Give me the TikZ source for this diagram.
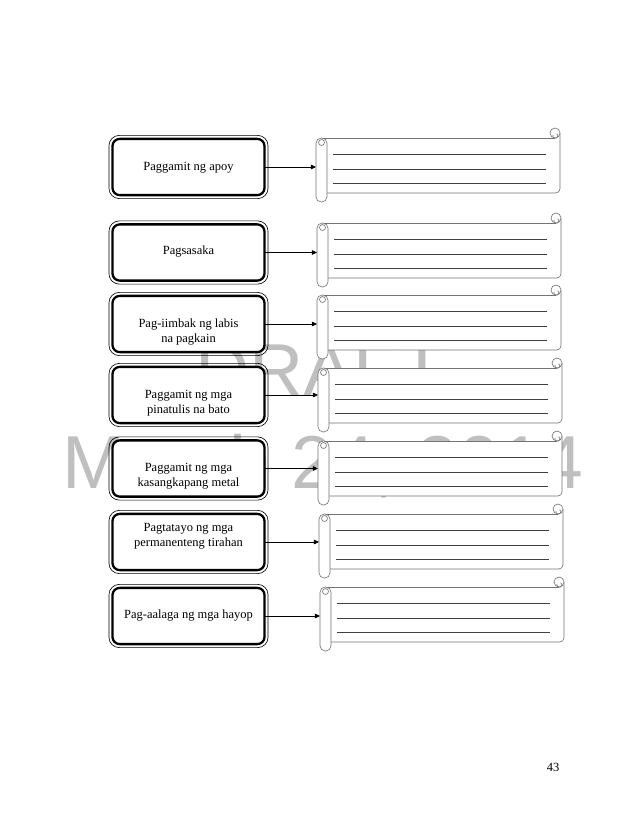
\documentclass[tikz,border=0pt]{standalone}
\usepackage{fontspec}
\setmainfont{Liberation Serif}
\newfontfamily\markfont{Liberation Sans}
\usetikzlibrary{positioning,calc,arrows.meta}

\tikzset{
  topicbox/.style={draw, line width=2.2pt, rounded corners=7pt, fill=white,
    minimum width=146pt, minimum height=54pt, outer sep=0pt, inner sep=0pt},
  topicrim/.style={draw, line width=0.6pt, rounded corners=10pt},
  topictext/.style={align=center, font=\fontsize{12}{14.5}\selectfont, inner sep=0pt},
  scrollrim/.style={draw=black!55, line width=0.6pt},
  writeline/.style={draw=black!75, line width=0.7pt},
  watermark/.style={text=black!25, font=\markfont\fontsize{72}{72}\selectfont, anchor=base},
  linkarrow/.style={-{Triangle[length=5pt,width=4.5pt]}, line width=0.6pt}
}

\begin{document}
\begin{tikzpicture}[x=0.96pt,y=-0.96pt]
        \fill[white] (0,0) rectangle (638,826);
        \useasboundingbox (0,0) rectangle (638,826);

        % Watermark
        \node[watermark] (draft) at (320,396) {DRAFT};
        \node[watermark] (date) at (323,488) {March 24, 2014};

        % Topic boxes
        \node[topicbox] (b1) at (188.5,167) {};
        \node[topicbox] (b2) at (188.5,252.5) {};
        \node[topicbox] (b3) at (188.5,324) {};
        \node[topicbox] (b4) at (188.5,395) {};
        \node[topicbox] (b5) at (188.5,468.5) {};
        \node[topicbox] (b6) at (188.5,542) {};
        \node[topicbox] (b7) at (188.5,616) {};
        \foreach \n in {b1,b2,b3,b4,b5,b6,b7}
            \draw[topicrim] ([shift={(-3.5,-3.5)}]\n.north west) rectangle ([shift={(3.5,3.5)}]\n.south east);

        % Box texts
        \node[topictext] (t1) at (188.5,168) {Paggamit ng apoy};
        \node[topictext] (t2) at (188.5,252) {Pagsasaka};
        \node[topictext] (t3) at (188.5,332) {Pag-iimbak ng labis\\na pagkain};
        \node[topictext] (t4) at (188.5,403) {Paggamit ng mga\\pinatulis na bato};
        \node[topictext] (t5) at (188.5,476.5) {Paggamit ng mga\\kasangkapang metal};
        \node[topictext] (t6) at (188.5,536) {Pagtatayo ng mga\\permanenteng tirahan};
        \node[topictext] (t7) at (188.5,616) {Pag-aalaga ng mga hayop};

        % Scrolls to write on
        \foreach \sx/\st [count=\i] in {316/138, 317/223, 317/295, 318/368, 318/441, 319/514, 320/587} {
            \fill[white] (\sx+5,\st) rectangle (\sx+244,\st+55);
            \draw[scrollrim] (\sx+5,\st) -- (\sx+239,\st);
            \draw[scrollrim, rounded corners=4] (\sx+8,\st+55) -- (\sx+244,\st+55) -- (\sx+244,\st-5);
            \draw[scrollrim, fill=white] (\sx+239,\st-5) circle (5);
            \draw[scrollrim] (\sx+237,\st-3) arc (200:-60:2.5);
            \draw[scrollrim, fill=white, rounded corners=5] (\sx,\st) rectangle (\sx+11,\st+64);
            \draw[scrollrim] (\sx+5.5,\st+4.5) circle (3);
            \foreach \ly in {16,31,45}
                \draw[writeline] (\sx+17,\st+\ly) -- (\sx+230,\st+\ly);
            \coordinate (s\i) at (\sx,\st+29);
        }

        % Arrows
        \foreach \i in {1,...,7}
            \draw[linkarrow] (b\i.east) -- (b\i.east -| s\i);

        % Page number
        \node[font=\fontsize{12}{14}\selectfont] (pagenum) at (553,767) {43};
\end{tikzpicture}
\end{document}
